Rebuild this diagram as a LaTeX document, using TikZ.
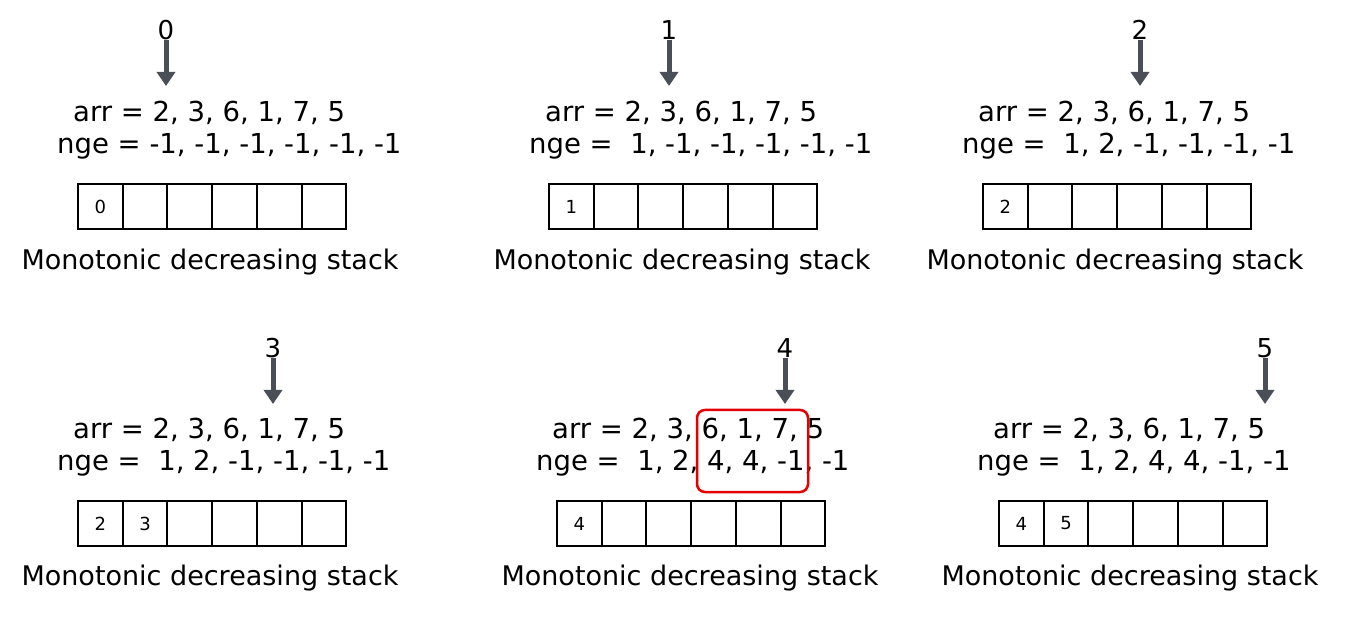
\documentclass[tikz,border=0pt]{standalone}
\usepackage{fontspec}
\setmainfont{DejaVu Sans}
\usetikzlibrary{arrows.meta}
\definecolor{ag}{HTML}{4A4F57}
\begin{document}
\begin{tikzpicture}[x=1pt,y=-1pt,
 txt/.style={anchor=west,inner sep=0,font=\fontsize{27.5}{30}\selectfont},
 captxt/.style={inner sep=0,font=\fontsize{27}{30}\selectfont},
 cell/.style={draw,line width=2pt,minimum width=44.7pt,minimum height=45pt,inner sep=0,anchor=north west},
 arr/.style={ag,line width=5pt,-{Triangle[width=18pt,length=14pt]}},
 lab/.style={inner sep=0,font=\fontsize{26}{30}\selectfont}]
\useasboundingbox (0,0) rectangle (1358,617);
\foreach \ax/\ay/\lb/\tx/\ty/\nx/\ng/\bx/\by/\cx/\cy/\cc/\id in {
 166/30/0/73/113/57/{-1, -1, -1, -1, -1, -1}/77/183/210/262/{0}/a,
 669/30/1/545/113/529/{ 1, -1, -1, -1, -1, -1}/548/183/682/262/{1}/b,
 1140/30/2/978/113/962/{ 1, 2, -1, -1, -1, -1}/982/183/1115/262/{2}/c,
 273/348/3/73/430/57/{ 1, 2, -1, -1, -1, -1}/77/500/210/578/{2,3}/d,
 785/348/4/552/430/536/{ 1, 2, 4, 4, -1, -1}/556/500/690/578/{4}/e,
 1265/348/5/993/430/977/{ 1, 2, 4, 4, -1, -1}/998/500/1130/578/{4,5}/f}{
 \node[lab] (l\id) at (\ax,\ay) {\lb};
 \coordinate (t\id) at (\ax,\ay+56);
 \draw[arr] (l\id.south) -- (t\id);
 \node[txt] (r\id) at (\tx,\ty) {arr = 2, 3, 6, 1, 7, 5};
 \node[txt] (n\id) at (\nx,\ty+33) {nge = \ng};
 \foreach \k in {0,...,5}{\node[cell] (c\id\k) at (\bx+\k*44.7,\by) {};}
 \foreach \v [count=\k from 0] in \cc {\node[font=\fontsize{18}{20}\selectfont] at (c\id\k) {\v};}
 \node[captxt] (m\id) at (\cx,\cy) {Monotonic decreasing stack};
}
\draw[red!90!black,line width=2.5pt,rounded corners=8pt] (697,410) rectangle (808,492);
\end{tikzpicture}
\end{document}
